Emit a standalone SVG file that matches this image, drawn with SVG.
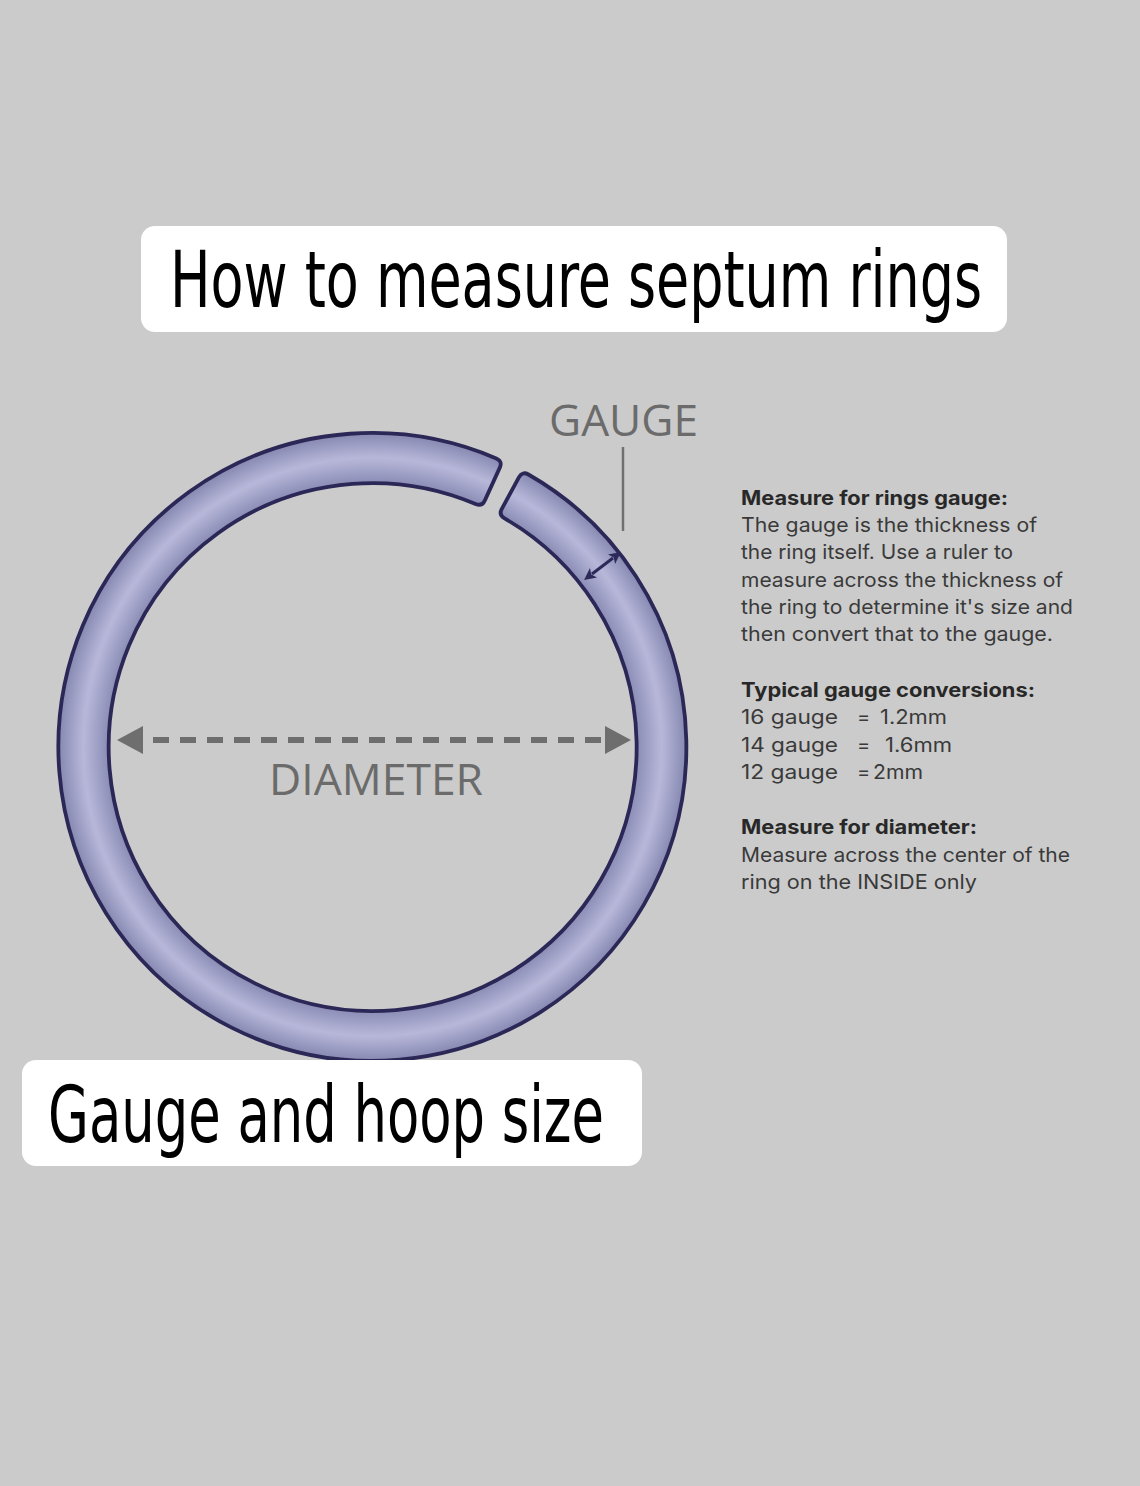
<svg xmlns="http://www.w3.org/2000/svg" width="1140" height="1486" viewBox="0 0 1140 1486">
  <defs>
    <style>
      .banner { fill: #ffffff; }
      .bigtxt { font-family: "Liberation Sans Narrow", "DejaVu Sans Condensed", "Liberation Sans", sans-serif; fill: #000000; }
      .lbl { font-family: "Open Sans", "Liberation Sans", sans-serif; fill: #6b6b6b; }
      .info { font-family: Inter, Roboto, "Liberation Sans", sans-serif; font-size: 20px; fill: #3a3a3a; }
      .infob { font-family: Inter, Roboto, "Liberation Sans", sans-serif; font-size: 20px; font-weight: 700; fill: #282828; }
      .grayline { stroke: #707070; fill: none; }
    </style>
    <radialGradient id="tube" gradientUnits="userSpaceOnUse" cx="372.5" cy="747" r="316">
      <stop offset="0" stop-color="#8a8ab5"/>
      <stop offset="0.83" stop-color="#8889b3"/>
      <stop offset="0.915" stop-color="#b7b8d9"/>
      <stop offset="1" stop-color="#8384ae"/>
    </radialGradient>
    <marker id="gh" viewBox="0 0 26 28" refX="0" refY="14" markerWidth="26" markerHeight="28" markerUnits="userSpaceOnUse" orient="auto-start-reverse">
      <path d="M0,0 L26,14 L0,28 Z" fill="#6e6e6e"/>
    </marker>
    <marker id="nh" viewBox="0 0 12 12" refX="2" refY="6" markerWidth="12" markerHeight="12" markerUnits="userSpaceOnUse" orient="auto-start-reverse">
      <path d="M0,0 L12,6 L0,12 L3,6 Z" fill="#2d2a5a"/>
    </marker>
  </defs>
  <rect x="0" y="0" width="1140" height="1486" fill="#cbcbcb"/>

  <g id="title">
    <rect class="banner" x="141" y="226" width="866" height="106" rx="14"/>
    <text class="bigtxt" x="170" y="307" font-size="78" textLength="812" lengthAdjust="spacingAndGlyphs">How to measure septum rings</text>
  </g>

  <g id="ring">
    <path d="M 528.46 474.48 A 314 314 0 1 1 496.31 458.43 Q 502.72 461.26 499.81 467.63 L 484.88 500.39 Q 481.98 506.76 475.57 503.96 A 264 264 0 1 0 504.58 518.40 Q 498.48 515.0 501.82 508.85 L 519.0 477.21 Q 522.34 471.06 528.46 474.48 Z" fill="url(#tube)" stroke="#2b2857" stroke-width="3.8" stroke-linejoin="round"/>
  </g>

  <g id="gauge-label">
    <text class="lbl" x="549" y="436" font-size="44" textLength="149" lengthAdjust="spacingAndGlyphs">GAUGE</text>
  </g>

  <g id="diameter-label">
    <text class="lbl" x="269" y="795" font-size="44" textLength="214" lengthAdjust="spacingAndGlyphs">DIAMETER</text>
  </g>

  <g id="connectors">
    <line class="grayline" x1="623" y1="447" x2="623" y2="531" stroke-width="2.5"/>
    <line x1="592" y1="574" x2="613" y2="558" stroke="#2d2a5a" stroke-width="3" marker-start="url(#nh)" marker-end="url(#nh)"/>
    <line x1="143" y1="740" x2="605" y2="740" stroke="#6e6e6e" stroke-width="6" stroke-dasharray="16 11" stroke-dashoffset="17" marker-start="url(#gh)" marker-end="url(#gh)"/>
  </g>

  <g id="info">
    <text class="infob" x="741" y="505" textLength="267" lengthAdjust="spacingAndGlyphs">Measure for rings gauge:</text>
    <text class="info" x="741" y="532" textLength="296" lengthAdjust="spacingAndGlyphs">The gauge is the thickness of</text>
    <text class="info" x="741" y="559" textLength="272" lengthAdjust="spacingAndGlyphs">the ring itself. Use a ruler to</text>
    <text class="info" x="741" y="587" textLength="322" lengthAdjust="spacingAndGlyphs">measure across the thickness of</text>
    <text class="info" x="741" y="614" textLength="332" lengthAdjust="spacingAndGlyphs">the ring to determine it's size and</text>
    <text class="info" x="741" y="641" textLength="312" lengthAdjust="spacingAndGlyphs">then convert that to the gauge.</text>

    <text class="infob" x="741" y="697" textLength="294" lengthAdjust="spacingAndGlyphs">Typical gauge conversions:</text>
    <text class="info" x="741" y="724" textLength="97" lengthAdjust="spacingAndGlyphs">16 gauge</text>
    <text class="info" x="857" y="724">=</text>
    <text class="info" x="880" y="724" textLength="67" lengthAdjust="spacingAndGlyphs">1.2mm</text>
    <text class="info" x="741" y="752" textLength="97" lengthAdjust="spacingAndGlyphs">14 gauge</text>
    <text class="info" x="857" y="752">=</text>
    <text class="info" x="885" y="752" textLength="67" lengthAdjust="spacingAndGlyphs">1.6mm</text>
    <text class="info" x="741" y="779" textLength="97" lengthAdjust="spacingAndGlyphs">12 gauge</text>
    <text class="info" x="857" y="779">=</text>
    <text class="info" x="873" y="779" textLength="50" lengthAdjust="spacingAndGlyphs">2mm</text>

    <text class="infob" x="741" y="834" textLength="236" lengthAdjust="spacingAndGlyphs">Measure for diameter:</text>
    <text class="info" x="741" y="862" textLength="329" lengthAdjust="spacingAndGlyphs">Measure across the center of the</text>
    <text class="info" x="741" y="889" textLength="236" lengthAdjust="spacingAndGlyphs">ring on the INSIDE only</text>
  </g>

  <g id="subtitle">
    <rect class="banner" x="22" y="1060" width="620" height="106" rx="14"/>
    <text class="bigtxt" x="48" y="1142" font-size="78" textLength="556" lengthAdjust="spacingAndGlyphs">Gauge and hoop size</text>
  </g>
</svg>
